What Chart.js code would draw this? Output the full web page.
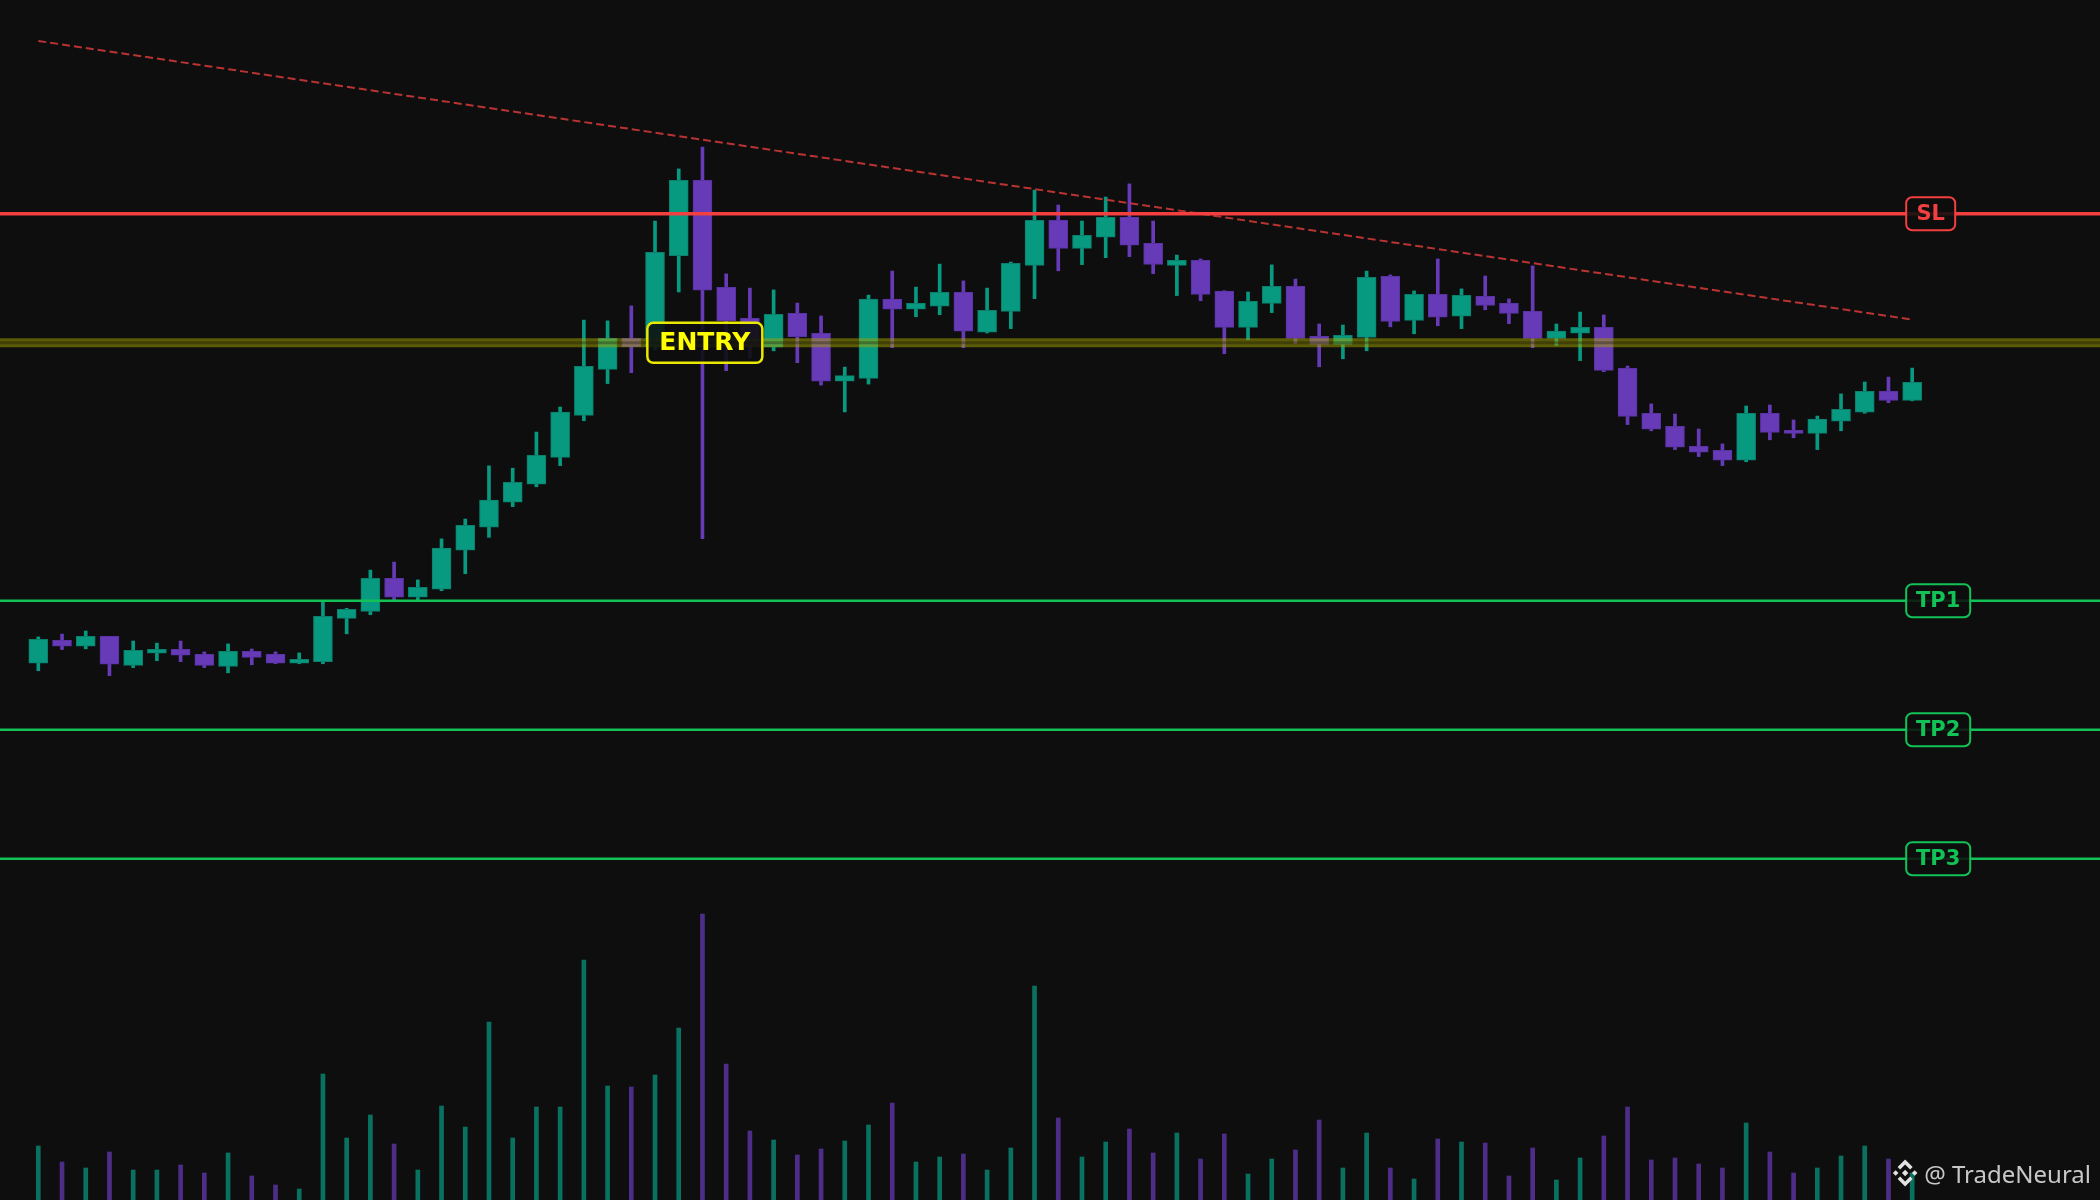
<!DOCTYPE html>
<html lang="en">
<head>
  <meta charset="utf-8">
  <title>Trade Setup</title>
  <script src="https://cdn.jsdelivr.net/npm/chart.js"></script>
  <style>
    html, body { margin: 0; padding: 0; background: #0e0e0e; overflow: hidden; }
    #wrap { width: 2100px; height: 1200px; position: relative; }
  </style>
</head>
<body>
  <div id="wrap"><canvas id="priceChart"></canvas></div>

  <script>
    // candles, oldest first
    const opens = [87.58, 88.47, 88.24, 88.62, 87.50, 87.97, 88.12, 87.93, 87.46, 88.04,
      87.93, 87.58, 87.64, 89.32, 89.59, 90.87, 90.14, 90.45, 91.96, 92.85,
      93.82, 94.52, 95.56, 97.19, 98.97, 100.17, 99.85, 103.38, 106.30, 102.15,
      100.95, 99.83, 101.14, 100.37, 98.51, 98.62, 101.69, 101.30, 101.42, 101.96,
      100.41, 101.22, 103.00, 104.75, 103.66, 104.09, 104.86, 103.86, 103.00, 103.20,
      102.00, 100.60, 101.53, 102.19, 100.25, 99.94, 100.21, 102.58, 100.87, 101.88,
      101.03, 101.80, 101.53, 101.22, 100.17, 100.37, 100.60, 99.01, 97.27, 96.76,
      95.99, 95.83, 95.45, 97.27, 96.61, 96.49, 96.96, 97.31, 98.12, 97.77];
    const highs = [88.60, 88.71, 88.83, 88.62, 88.44, 88.36, 88.44, 88.02, 88.33, 88.13,
      88.02, 87.98, 89.99, 89.71, 91.19, 91.50, 90.81, 92.40, 93.17, 95.23,
      95.14, 96.54, 97.51, 100.88, 100.85, 101.43, 104.72, 106.74, 107.59, 102.67,
      102.12, 102.05, 101.54, 101.04, 99.06, 101.85, 102.78, 102.16, 103.05, 102.40,
      102.12, 103.13, 105.92, 105.34, 104.72, 105.65, 106.16, 104.72, 103.40, 103.25,
      102.02, 101.97, 103.02, 102.47, 100.73, 100.69, 102.78, 102.63, 102.01, 103.25,
      102.09, 102.59, 101.70, 102.98, 100.73, 101.19, 101.08, 99.10, 97.63, 97.24,
      96.66, 96.08, 97.55, 97.59, 97.01, 97.16, 98.02, 98.48, 98.67, 99.02];
    const lows = [87.29, 88.11, 88.14, 87.10, 87.41, 87.68, 87.64, 87.41, 87.21, 87.52,
      87.56, 87.56, 87.56, 88.72, 89.46, 90.03, 90.03, 90.39, 91.05, 92.46,
      93.65, 94.42, 95.24, 96.98, 98.42, 98.84, 99.72, 101.97, 92.41, 98.92,
      99.41, 99.69, 99.23, 98.36, 97.32, 98.40, 99.81, 101.01, 101.09, 99.81,
      100.38, 100.55, 101.71, 102.79, 103.03, 103.30, 103.34, 102.68, 101.83, 101.63,
      99.58, 100.12, 101.17, 99.97, 99.07, 99.38, 99.69, 100.62, 100.35, 100.66,
      100.55, 101.28, 100.74, 99.81, 99.90, 99.31, 98.88, 96.83, 96.59, 95.86,
      95.59, 95.24, 95.39, 96.24, 96.32, 95.86, 96.59, 97.27, 97.68, 97.75];
    const closes = [88.51, 88.24, 88.62, 87.54, 88.08, 88.12, 87.89, 87.50, 88.04, 87.81,
      87.58, 87.73, 89.40, 89.67, 90.87, 90.14, 90.52, 92.04, 92.93, 93.90,
      94.59, 95.64, 97.31, 99.09, 100.17, 99.85, 103.51, 106.30, 102.04, 100.86,
      99.92, 101.10, 100.24, 98.51, 98.73, 101.69, 101.30, 101.53, 101.96, 100.45,
      101.26, 103.08, 104.75, 103.66, 104.17, 104.86, 103.78, 103.04, 103.20, 101.88,
      100.60, 101.61, 102.19, 100.17, 99.94, 100.29, 102.54, 100.83, 101.88, 100.99,
      101.84, 101.45, 101.14, 100.17, 100.45, 100.60, 98.93, 97.15, 96.65, 95.95,
      95.76, 95.45, 97.27, 96.53, 96.49, 97.04, 97.42, 98.12, 97.77, 98.47];
    const volumes = [540, 380, 320, 480, 300, 300, 350, 270, 470, 240,
      150, 110, 1260, 620, 850, 560, 300, 940, 730, 1780,
      620, 930, 930, 2400, 1140, 1130, 1250, 1720, 2860, 1360,
      690, 600, 450, 510, 590, 750, 970, 380, 430, 460,
      300, 520, 2140, 820, 430, 580, 710, 470, 670, 410,
      660, 260, 410, 500, 800, 320, 670, 320, 210, 610,
      580, 570, 240, 520, 200, 420, 640, 930, 400, 420,
      360, 320, 770, 480, 270, 320, 440, 540, 410, 270];

    // trade levels
    const entryLevel = 100;
    const slLevel = 105;
    const tpLevels = [90, 85, 80];
    const tpNames = ['TP1', 'TP2', 'TP3'];
    const entryLabelAt = 28.1;

    // descending trendline: [candle index, price]
    const trendFrom = [0, 111.70];
    const trendTo = [79, 100.90];

    const UP = '#089981', DOWN = '#673ab7';
    const UP_EDGE = '#0b7f6c', DOWN_EDGE = '#5a32a3';
    const UP_VOL = 'rgba(8,153,129,0.72)', DOWN_VOL = 'rgba(103,58,183,0.72)';
    const SL_RED = '#f23f3f', TP_GREEN = '#12c257';

    const idx = opens.map((_, i) => i);
    const isUp = i => closes[i] >= opens[i];
    const span = [-5, 95];
    const levelLine = (v) => span.map(x => ({ x, y: v }));

    function roundRect(ctx, x, y, w, h, r) {
      ctx.beginPath();
      ctx.moveTo(x + r, y);
      ctx.arcTo(x + w, y, x + w, y + h, r);
      ctx.arcTo(x + w, y + h, x, y + h, r);
      ctx.arcTo(x, y + h, x, y, r);
      ctx.arcTo(x, y, x + w, y, r);
      ctx.closePath();
    }

    function drawTag(ctx, text, left, cy, w, h, color, textColor, font, lw) {
      roundRect(ctx, left, cy - h / 2, w, h, 6);
      ctx.fillStyle = 'rgba(14,14,14,0.88)';
      ctx.fill();
      ctx.lineWidth = lw;
      ctx.strokeStyle = color;
      ctx.stroke();
      ctx.fillStyle = textColor;
      ctx.font = font;
      ctx.textAlign = 'center';
      ctx.textBaseline = 'middle';
      ctx.fillText(text, left + w / 2, cy + 1);
    }

    function drawLogo(ctx, cx, cy) {
      const d = (x, y, r) => {
        ctx.beginPath();
        ctx.moveTo(x, y - r); ctx.lineTo(x + r, y); ctx.lineTo(x, y + r); ctx.lineTo(x - r, y);
        ctx.closePath(); ctx.fill();
      };
      ctx.fillStyle = '#e2e2e2';
      d(cx, cy, 3.2);
      d(cx - 9.5, cy, 2.8);
      d(cx + 9.5, cy, 2.8);
      [-1, 1].forEach(s => {
        ctx.beginPath();
        ctx.moveTo(cx, cy + s * 13.5);
        ctx.lineTo(cx + 7.5, cy + s * 6);
        ctx.lineTo(cx + 5, cy + s * 3.5);
        ctx.lineTo(cx, cy + s * 8.5);
        ctx.lineTo(cx - 5, cy + s * 3.5);
        ctx.lineTo(cx - 7.5, cy + s * 6);
        ctx.closePath(); ctx.fill();
      });
    }

    const background = {
      id: 'background',
      beforeDraw(chart) {
        const ctx = chart.ctx;
        ctx.save();
        ctx.fillStyle = '#0e0e0e';
        ctx.fillRect(0, 0, chart.width, chart.height);
        ctx.restore();
      }
    };

    const overlay = {
      id: 'overlay',
      afterDatasetsDraw(chart) {
        const { ctx } = chart;
        const x = chart.scales.x, y = chart.scales.y;
        const tagLeft = x.getPixelForValue(opens.length - 1) - 6;
        ctx.save();
        drawTag(ctx, 'SL', tagLeft, y.getPixelForValue(slLevel), 49, 33, SL_RED, SL_RED, 'bold 21px "DejaVu Sans"', 2);
        tpLevels.forEach((v, k) => {
          drawTag(ctx, tpNames[k], tagLeft, y.getPixelForValue(v), 64, 33, TP_GREEN, TP_GREEN, 'bold 21px "DejaVu Sans"', 2);
        });
        const ex = x.getPixelForValue(entryLabelAt);
        drawTag(ctx, 'ENTRY', ex - 57.5, y.getPixelForValue(entryLevel), 115, 40, '#e8e800', '#ffff00', 'bold 25px "DejaVu Sans"', 2.5);

        // watermark
        ctx.font = '24px "Noto Sans"';
        ctx.fillStyle = '#c8c8c8';
        ctx.textAlign = 'right';
        ctx.textBaseline = 'alphabetic';
        const label = '@ TradeNeural';
        const right = chart.width - 9;
        ctx.fillText(label, right, chart.height - 17);
        const tw = ctx.measureText(label).width;
        drawLogo(ctx, right - tw - 19, chart.height - 27);
        ctx.restore();
      }
    };

    const lineDs = (data, color, width, order, extra) => Object.assign({
      type: 'line', data, borderColor: color, borderWidth: width,
      pointRadius: 0, fill: false, tension: 0, order, yAxisID: 'y'
    }, extra || {});

    new Chart(document.getElementById('priceChart'), {
      type: 'bar',
      data: {
        datasets: [
          {
            label: 'Volume', yAxisID: 'yv', order: 10, grouped: false, barThickness: 4,
            data: idx.map(i => ({ x: i, y: volumes[i] })),
            backgroundColor: idx.map(i => isUp(i) ? UP_VOL : DOWN_VOL)
          },
          {
            label: 'Wick', yAxisID: 'y', order: 8, grouped: false, barThickness: 3,
            data: idx.map(i => ({ x: i, y: [lows[i], highs[i]] })),
            backgroundColor: idx.map(i => isUp(i) ? UP : DOWN)
          },
          {
            label: 'Body', yAxisID: 'y', order: 7, grouped: false, barThickness: 19,
            minBarLength: 2, borderWidth: 1, borderSkipped: false,
            data: idx.map(i => ({ x: i, y: [opens[i], closes[i]] })),
            backgroundColor: idx.map(i => isUp(i) ? UP : DOWN),
            borderColor: idx.map(i => isUp(i) ? UP_EDGE : DOWN_EDGE)
          },
          lineDs([{ x: trendFrom[0], y: trendFrom[1] }, { x: trendTo[0], y: trendTo[1] }],
            'rgba(205,55,55,0.9)', 2, 3, { borderDash: [8, 4] }),
          lineDs(levelLine(slLevel), SL_RED, 3.5, 2),
          ...tpLevels.map(v => lineDs(levelLine(v), TP_GREEN, 2.5, 2)),
          lineDs(levelLine(entryLevel), 'rgba(165,165,0,0.5)', 9, 1),
          lineDs(levelLine(entryLevel), 'rgba(0,0,0,0.28)', 3, 0)
        ]
      },
      options: {
        responsive: true,
        maintainAspectRatio: false,
        animation: false,
        layout: { padding: 0 },
        plugins: { legend: { display: false }, tooltip: { enabled: false } },
        scales: {
          x: { type: 'linear', display: false, offset: false, min: -1.6147, max: 86.918 },
          y: { type: 'linear', display: false, min: 66.775, max: 113.287 },
          yv: { type: 'linear', display: false, min: 0, max: 12000 }
        }
      },
      plugins: [background, overlay]
    });
  </script>
</body>
</html>
